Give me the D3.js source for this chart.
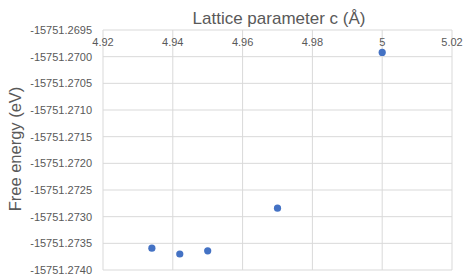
<!DOCTYPE html>
<html>
<head>
<style>
  body { margin: 0; background: #fff; }
  svg { display: block; font-family: "Liberation Sans", Arial, sans-serif; }
</style>
</head>
<body>
<svg id="chart" width="474" height="280"></svg>
<script src="https://cdnjs.cloudflare.com/ajax/libs/d3/7.8.5/d3.min.js"></script>
<script>
  // lattice parameter c (Å) and free energy (eV)
  const latticeC = [4.934, 4.942, 4.95, 4.97, 5.0];
  const freeEnergy = [-15751.27359, -15751.2737, -15751.27364, -15751.27284, -15751.26992];
  const xTicks = [4.92, 4.94, 4.96, 4.98, 5.0, 5.02];
  const yTicks = [-15751.2695, -15751.27, -15751.2705, -15751.271, -15751.2715,
                  -15751.272, -15751.2725, -15751.273, -15751.2735, -15751.274];

  const svg = d3.select('#chart');
  const margin = { left: 103, right: 22, top: 30, bottom: 10 };
  const w = 474 - margin.left - margin.right;
  const h = 280 - margin.top - margin.bottom;

  const x = d3.scaleLinear().domain([4.92, 5.02]).range([0, w]);
  const y = d3.scaleLinear().domain([-15751.2695, -15751.274]).range([0, h]);

  const g = svg.append('g').attr('transform', `translate(${margin.left},${margin.top})`);

  // grid
  g.selectAll('.hgrid').data(yTicks).enter().append('line')
    .attr('x1', 0).attr('x2', w)
    .attr('y1', d => y(d)).attr('y2', d => y(d))
    .attr('stroke', '#d9d9d9').attr('stroke-width', 1);
  g.selectAll('.vgrid').data(xTicks).enter().append('line')
    .attr('y1', 0).attr('y2', h)
    .attr('x1', d => x(d)).attr('x2', d => x(d))
    .attr('stroke', '#d9d9d9').attr('stroke-width', 1);

  // tick labels (plain hyphen like the original, not unicode minus)
  g.selectAll('.ylab').data(yTicks).enter().append('text')
    .attr('x', -11).attr('y', d => y(d)).attr('dy', '0.35em')
    .attr('text-anchor', 'end').attr('font-size', 11).attr('fill', '#595959')
    .text(d => d.toFixed(4));
  g.selectAll('.xlab').data(xTicks).enter().append('text')
    .attr('x', d => x(d)).attr('y', 16)
    .attr('text-anchor', 'middle').attr('font-size', 11).attr('fill', '#595959')
    .text(d => String(+d.toFixed(2)));

  // points
  g.selectAll('circle').data(latticeC).enter().append('circle')
    .attr('cx', d => x(d)).attr('cy', (d, i) => y(freeEnergy[i]))
    .attr('r', 3.6).attr('fill', '#4472c4');

  // axis titles
  svg.append('text').attr('x', 279).attr('y', 24)
    .attr('text-anchor', 'middle').attr('font-size', 17).attr('fill', '#595959')
    .text('Lattice parameter c (Å)');
  svg.append('text').attr('transform', 'translate(21,149) rotate(-90)')
    .attr('text-anchor', 'middle').attr('font-size', 16.5).attr('fill', '#595959')
    .text('Free energy (eV)');
</script>
</body>
</html>
